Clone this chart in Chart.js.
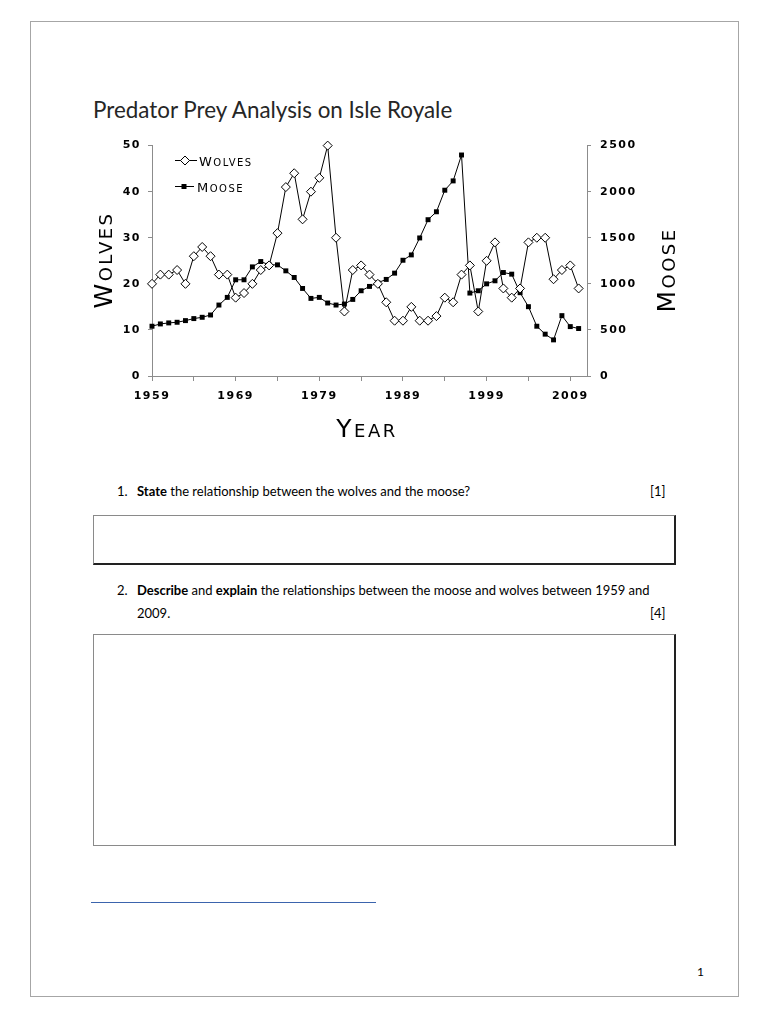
<!DOCTYPE html>
<html>
<head>
<meta charset="utf-8">
<script src="https://cdn.jsdelivr.net/npm/chart.js@4.4.1/dist/chart.umd.min.js"></script>
<style>
  body { margin: 0; width: 768px; height: 1024px; position: relative; overflow: hidden; background: #fff; font-family: Lato, "Open Sans", sans-serif; color: #000; }
  .abs { position: absolute; }
  #page { left: 30px; top: 21px; width: 707px; height: 974px; border: 1px solid #a6a6a6; }
  #title { left: 93px; top: 98px; font-size: 22.4px; line-height: 24px; color: #262626; white-space: nowrap; }
  #wrap { left: 60px; top: 130px; width: 640px; height: 320px; }
  .q { font-size: 13px; line-height: 22px; white-space: nowrap; }
  .box { border: 1px solid #8a8a8a; border-right: 2px solid #222; }
  #rule { left: 91px; top: 902px; width: 285px; height: 1px; background: #3b64ad; }
</style>
</head>
<body>
<div id="page" class="abs"></div>
<div id="title" class="abs">Predator Prey Analysis on Isle Royale</div>
<div id="wrap" class="abs"><canvas id="chart" width="640" height="320"></canvas></div>

<div class="abs q" style="left:117px;top:480px">1.</div>
<div class="abs q" style="left:137px;top:480px"><b>State</b> the relationship between the wolves and the moose?</div>
<div class="abs q" style="left:650px;top:480px">[1]</div>
<div class="abs box" style="left:93px;top:515px;width:580px;height:47px;border-bottom:2px solid #222"></div>

<div class="abs q" style="left:117px;top:579px">2.</div>
<div class="abs q" style="left:137px;top:579px"><b>Describe</b> and <b>explain</b> the relationships between the moose and wolves between 1959 and</div>
<div class="abs q" style="left:137px;top:602px">2009.</div>
<div class="abs q" style="left:650px;top:602px">[4]</div>
<div class="abs box" style="left:93px;top:634px;width:580px;height:210px"></div>

<div id="rule" class="abs"></div>
<div class="abs q" style="left:697px;top:961px;font-size:12px">1</div>

<script>
const years = [1959, 1960, 1961, 1962, 1963, 1964, 1965, 1966, 1967, 1968,
  1969, 1970, 1971, 1972, 1973, 1974, 1975, 1976, 1977, 1978,
  1979, 1980, 1981, 1982, 1983, 1984, 1985, 1986, 1987, 1988,
  1989, 1990, 1991, 1992, 1993, 1994, 1995, 1996, 1997, 1998,
  1999, 2000, 2001, 2002, 2003, 2004, 2005, 2006, 2007, 2008,
  2009, 2010]
const wolves = [20, 22, 22, 23, 20, 26, 28, 26, 22, 22,
  17, 18, 20, 23, 24, 31, 41, 44, 34, 40,
  43, 50, 30, 14, 23, 24, 22, 20, 16, 12,
  12, 15, 12, 12, 13, 17, 16, 22, 24, 14,
  25, 29, 19, 17, 19, 29, 30, 30, 21, 23,
  24, 19]
const moose = [540, 565, 576, 583, 601, 623, 637, 662, 770, 853,
  1044, 1044, 1184, 1242, 1206, 1206, 1141, 1069, 950, 842,
  853, 792, 770, 781, 831, 925, 972, 1012, 1048, 1116,
  1256, 1314, 1498, 1696, 1782, 2016, 2117, 2398, 900, 925,
  1000, 1033, 1123, 1105, 904, 752, 540, 454, 392, 655,
  536, 515]
const xTicks = [1959, 1964, 1969, 1974, 1979, 1984, 1989, 1994, 1999, 2004, 2009]
const xLabels = [1959, 1969, 1979, 1989, 1999, 2009]
const wolfTicks = [0, 10, 20, 30, 40, 50]
const mooseTicks = [0, 500, 1000, 1500, 2000, 2500]

const FONT = '"DejaVu Sans"'
const axisGray = '#8c8c8c'

// small caps: first letter big, the rest in smaller capitals
function drawCaps(ctx, text, x, y, big, small, spacing, rot, center) {
  ctx.save()
  ctx.translate(x, y)
  ctx.rotate(rot)
  ctx.letterSpacing = spacing + 'px'
  ctx.fillStyle = '#000'
  ctx.textBaseline = 'alphabetic'
  ctx.textAlign = 'left'
  const head = text[0].toUpperCase()
  const rest = text.slice(1).toUpperCase()
  ctx.font = big + 'px ' + FONT
  const w1 = ctx.measureText(head).width
  ctx.font = small + 'px ' + FONT
  const w2 = ctx.measureText(rest).width
  const x0 = center ? -(w1 + w2) / 2 : 0
  ctx.font = big + 'px ' + FONT
  ctx.fillText(head, x0, 0)
  ctx.font = small + 'px ' + FONT
  ctx.fillText(rest, x0 + w1, 0)
  ctx.restore()
}

const extras = {
  id: 'extras',
  beforeDraw(chart) {
    chart.ctx.letterSpacing = '1.5px'
  },
  afterDraw(chart) {
    const ctx = chart.ctx
    drawCaps(ctx, 'Wolves', 52, 130, 25, 18, 2.5, -Math.PI / 2, true)
    drawCaps(ctx, 'Moose', 615, 140, 25, 18, 2.5, -Math.PI / 2, true)
    drawCaps(ctx, 'Year', 307, 307, 25, 18, 2.5, 0, true)

    // legend
    ctx.save()
    ctx.strokeStyle = '#000'
    ctx.lineWidth = 1
    ctx.beginPath()
    ctx.moveTo(115, 30.5); ctx.lineTo(137, 30.5)
    ctx.moveTo(115, 56.5); ctx.lineTo(134, 56.5)
    ctx.stroke()
    ctx.beginPath()
    ctx.moveTo(125, 26); ctx.lineTo(129.5, 30.5); ctx.lineTo(125, 35); ctx.lineTo(120.5, 30.5); ctx.closePath()
    ctx.fillStyle = '#fff'
    ctx.fill(); ctx.stroke()
    ctx.fillStyle = '#000'
    ctx.fillRect(121.5, 54, 5, 5)
    ctx.restore()
    drawCaps(ctx, 'Wolves', 139, 36, 13, 10, 1.5, 0, false)
    drawCaps(ctx, 'Moose', 137, 62, 13, 10, 1.5, 0, false)
  }
}

const tickFont = { family: FONT, size: 11, weight: 'bold' }

new Chart(document.getElementById('chart'), {
  type: 'line',
  data: {
    datasets: [{
      label: 'Wolves',
      data: years.map((y, i) => ({ x: y, y: wolves[i] })),
      yAxisID: 'y',
      borderColor: '#000',
      borderWidth: 1,
      pointStyle: 'rectRot',
      pointRadius: 4.5,
      pointBorderWidth: 1,
      pointBackgroundColor: '#fff',
      pointBorderColor: '#000',
      tension: 0,
      clip: false,
    }, {
      label: 'Moose',
      data: years.map((y, i) => ({ x: y, y: moose[i] })),
      yAxisID: 'y2',
      borderColor: '#000',
      borderWidth: 1,
      pointStyle: 'rect',
      pointRadius: 3.5,
      pointBorderWidth: 0,
      pointBackgroundColor: '#000',
      tension: 0,
      clip: false,
    }]
  },
  options: {
    responsive: false,
    animation: false,
    layout: { padding: { top: 15, left: 0, right: 0, bottom: 0 } },
    plugins: { legend: { display: false }, tooltip: { enabled: false } },
    scales: {
      x: {
        type: 'linear',
        min: 1959,
        max: 2011,
        afterBuildTicks: s => { s.ticks = xTicks.map(v => ({ value: v })) },
        afterFit: s => { s.height = 74 },
        grid: { drawOnChartArea: false, tickLength: 5, color: axisGray },
        border: { color: axisGray },
        ticks: {
          autoSkip: false,
          maxRotation: 0,
          padding: 9,
          color: '#000',
          font: tickFont,
          callback: v => xLabels.includes(v) ? String(v) : '',
        },
      },
      y: {
        position: 'left',
        min: 0,
        max: 50,
        afterBuildTicks: s => { s.ticks = wolfTicks.map(v => ({ value: v })) },
        afterFit: s => { s.width = 92 },
        grid: { drawOnChartArea: false, tickLength: 4, color: axisGray },
        border: { color: axisGray },
        ticks: { padding: 7, color: '#000', font: tickFont },
      },
      y2: {
        position: 'right',
        min: 0,
        max: 2500,
        afterBuildTicks: s => { s.ticks = mooseTicks.map(v => ({ value: v })) },
        afterFit: s => { s.width = 113 },
        grid: { drawOnChartArea: false, tickLength: 4, color: axisGray },
        border: { color: axisGray },
        ticks: { padding: 9, color: '#000', font: tickFont, callback: v => String(v) },
      },
    },
  },
  plugins: [extras],
})
</script>
</body>
</html>
